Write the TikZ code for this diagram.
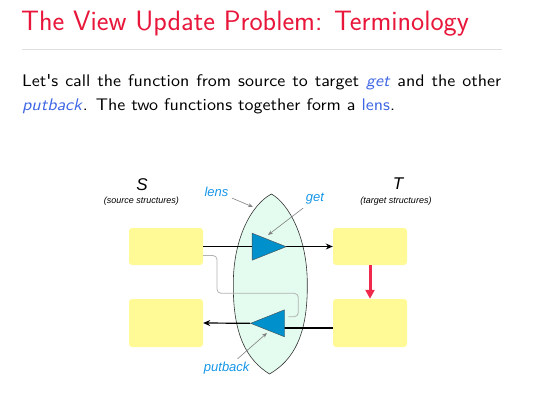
\documentclass[tikz,border=0pt]{standalone}
\usepackage{fontspec}
\newfontfamily\arialfont{Liberation Sans}
\newfontfamily\bodyfont{lmsans10-regular.otf}[ItalicFont=lmsans10-oblique.otf, FakeStretch=1.07]
\newfontfamily\headfont{lmsans17-regular.otf}
\usepackage{tikz}
\usetikzlibrary{
    arrows.meta,
    positioning,
    shapes.geometric,
    calc
}
\definecolor{titlered}{RGB}{232,22,58}
\definecolor{textblue}{RGB}{62,102,228}
\definecolor{labelblue}{RGB}{22,150,230}
\definecolor{trifill}{RGB}{0,144,204}
\definecolor{boxyellow}{RGB}{255,250,150}
\definecolor{lensfill}{RGB}{228,252,240}
\definecolor{arrowred}{RGB}{240,40,75}
\tikzstyle{box} = [fill=boxyellow, rounded corners=3pt, minimum width=74pt, inner sep=0pt]
\tikzstyle{arrow} = [-{Stealth[length=7pt,width=6pt]}, line width=1.2pt]
\tikzstyle{pointer} = [-{Stealth[length=5pt,width=4pt]}, gray, line width=0.6pt]
\tikzstyle{func} = [isosceles triangle, isosceles triangle stretches, fill=trifill, draw=black!70, line width=0.4pt, inner sep=0pt, minimum width=27pt, minimum height=34pt]
\tikzstyle{lbl} = [font=\arialfont\itshape\fontsize{13}{13}\selectfont, text=labelblue]
\tikzstyle{side} = [font=\arialfont\itshape\fontsize{17}{17}\selectfont]
\tikzstyle{sidenote} = [font=\arialfont\itshape\fontsize{9}{9}\selectfont]
\tikzstyle{body} = [anchor=base west, inner sep=0pt, font=\bodyfont\fontsize{16.8}{16.8}\selectfont]

\begin{document}
\begin{tikzpicture}[x=1pt,y=-1pt]
\useasboundingbox (0,0) rectangle (550,400);
\node[anchor=base west, inner sep=0pt, text=titlered, font=\headfont\fontsize{28}{28}\selectfont] (title) at (21,30.7) {The View Update Problem: Terminology};
\draw[gray!25, line width=0.8pt] (22,49.3) -- (502,49.3);
\node[body] (line1) at (22,86.7) {\makebox[479pt][s]{Let's call the function from source to target \textcolor{textblue}{\textit{get}} and the other}};
\node[body] (line2) at (22,110) {\textcolor{textblue}{\textit{putback}}. The two functions together form a \textcolor{textblue}{lens}.};
\node[side] (S) at (142,184.5) {S};
\node[sidenote] (Snote) at (141.5,201.5) {(source structures)};
\node[side] (T) at (398,184) {T};
\node[sidenote] (Tnote) at (396,201.5) {(target structures)};
\coordinate (lenstop) at (271.5,194);
\coordinate (lensbot) at (269.5,374);
\draw[fill=lensfill, draw=black!80, line width=0.6pt] (lenstop) .. controls (252,204) and (233,238) .. (233.3,285) .. controls (233,335) and (247,360) .. (lensbot) .. controls (293.6,360) and (307.6,335) .. (307.3,285) .. controls (307.6,238) and (289,204) .. (lenstop) -- cycle;
\node[box, minimum height=37pt] (src1) at (166,246.5) {};
\node[box, minimum height=48pt] (src2) at (166,323) {};
\node[box, minimum height=37pt] (tgt1) at (370,246.5) {};
\node[box, minimum height=48pt] (tgt2) at (370,323) {};
\coordinate (fb1) at (217,293.3);
\coordinate (fb2) at (298.3,316.7);
\draw[arrow] (src1.east) -- (tgt1.west);
\draw[gray!60, line width=0.8pt, rounded corners=4pt] ([yshift=-9pt]src1.east) -| (fb1) -| (fb2) -- (fb2 -| {288.3,0});
\draw[line width=1.2pt] ([yshift=-5pt]tgt2.west) -- ++(-50,0);
\node[func, anchor=apex] (get) at (286.7,246.7) {};
\node[func, anchor=apex, shape border rotate=180] (put) at (250,323.3) {};
\draw[arrow] (put.apex) -- (src2.east);
\draw[-{Triangle[length=9pt,width=9pt]}, arrowred, line width=3pt] (tgt1.south) -- (tgt2.north);
\node[lbl] (lenslbl) at (216.5,191.5) {lens};
\node[lbl] (getlbl) at (315,199) {get};
\node[lbl] (putlbl) at (226.7,368.3) {putback};
\coordinate (lensmark) at (253,207);
\coordinate (getmark) at (268,235);
\coordinate (putmark) at (267,333);
\draw[pointer] (lenslbl) -- (lensmark);
\draw[pointer] (getlbl) -- (getmark);
\draw[pointer] (putlbl) -- (putmark);
\end{tikzpicture}
\end{document}
